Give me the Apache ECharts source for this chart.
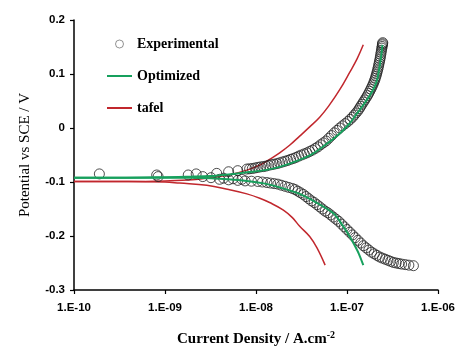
<!DOCTYPE html>
<html>
<head>
<meta charset="utf-8">
<script src="https://cdn.jsdelivr.net/npm/echarts@6/dist/echarts.min.js"></script>
<style>html,body{margin:0;padding:0;background:#fff;}#c{width:474px;height:355px;}</style>
</head>
<body>
<div id="c"></div>
<script>
// Tick labels
var xTickLabels = ["1.E-10", "1.E-09", "1.E-08", "1.E-07", "1.E-06"];
var yTickLabels = ["-0.3", "-0.2", "-0.1", "0", "0.1", "0.2"];

// Experimental data (current density A/cm2, potential V vs SCE)
var expNearCurrent = [1.9e-10, 8.1e-10, 8.4e-10, 1.8e-9, 2.2e-9, 2.6e-9, 3.2e-9, 3.7e-9, 4.4e-9, 5.0e-9, 5.6e-9, 6.3e-9, 7.0e-9];
var expNearPotential = [-0.085, -0.087, -0.090, -0.087, -0.085, -0.090, -0.092, -0.084, -0.093, -0.081, -0.094, -0.079, -0.095];

var expAnodicCurrent = [7.94e-9, 8.51e-9, 9.12e-9, 9.77e-9, 1.047e-8, 1.122e-8, 1.202e-8, 1.288e-8, 1.380e-8, 1.479e-8, 1.585e-8, 1.698e-8, 1.820e-8, 1.950e-8, 2.089e-8, 2.239e-8, 2.399e-8, 2.570e-8, 2.754e-8, 2.951e-8, 3.162e-8, 3.388e-8, 3.631e-8, 3.890e-8, 4.169e-8, 4.467e-8, 4.786e-8, 5.129e-8, 5.495e-8, 5.888e-8, 6.310e-8, 6.761e-8, 7.244e-8, 7.762e-8, 8.318e-8,
  8.91e-8, 9.55e-8, 1.023e-7, 1.084e-7, 1.148e-7, 1.202e-7, 1.259e-7, 1.318e-7, 1.365e-7, 1.413e-7, 1.462e-7, 1.514e-7, 1.567e-7, 1.622e-7, 1.675e-7, 1.730e-7, 1.778e-7, 1.828e-7, 1.875e-7, 1.923e-7, 1.968e-7, 2.009e-7, 2.046e-7, 2.080e-7, 2.113e-7, 2.143e-7, 2.173e-7, 2.203e-7, 2.228e-7, 2.254e-7, 2.280e-7, 2.307e-7, 2.328e-7, 2.350e-7, 2.371e-7, 2.393e-7, 2.415e-7, 2.432e-7, 2.449e-7, 2.460e-7, 2.472e-7];
var expAnodicPotential = [-0.076, -0.0755, -0.075, -0.074, -0.073, -0.072, -0.0715, -0.0705, -0.069, -0.068, -0.067, -0.066, -0.0645, -0.063, -0.0615, -0.060, -0.058, -0.0565, -0.0545, -0.052, -0.050, -0.048, -0.046, -0.0435, -0.041, -0.038, -0.035, -0.031, -0.0275, -0.024, -0.019, -0.014, -0.009, -0.0045, 0.000,
  0.004, 0.008, 0.012, 0.016, 0.020, 0.024, 0.028, 0.032, 0.036, 0.040, 0.044, 0.048, 0.052, 0.056, 0.060, 0.064, 0.068, 0.072, 0.076, 0.080, 0.084, 0.088, 0.092, 0.096, 0.100, 0.104, 0.108, 0.112, 0.116, 0.120, 0.124, 0.128, 0.132, 0.136, 0.140, 0.144, 0.148, 0.151, 0.154, 0.156, 0.158];

var expCathodicCurrent = [3.98e-9, 5.01e-9, 6.31e-9, 7.59e-9, 8.91e-9, 1.047e-8, 1.175e-8, 1.318e-8, 1.445e-8, 1.585e-8, 1.738e-8, 1.905e-8, 2.089e-8, 2.291e-8, 2.512e-8, 2.692e-8, 2.884e-8, 3.090e-8, 3.311e-8, 3.548e-8, 3.802e-8, 4.074e-8, 4.365e-8, 4.677e-8, 5.012e-8, 5.370e-8, 5.754e-8, 6.166e-8, 6.607e-8, 7.079e-8, 7.586e-8, 8.128e-8, 8.710e-8, 9.333e-8, 1.0e-7, 1.072e-7, 1.148e-7, 1.230e-7, 1.318e-7, 1.413e-7, 1.514e-7, 1.622e-7, 1.738e-7, 1.862e-7, 1.995e-7, 2.138e-7, 2.291e-7, 2.455e-7, 2.630e-7, 2.818e-7, 3.020e-7, 3.236e-7, 3.467e-7, 3.715e-7, 3.981e-7, 4.365e-7, 4.786e-7, 5.370e-7];
var expCathodicPotential = [-0.095, -0.096, -0.097, -0.098, -0.0985, -0.099, -0.100, -0.101, -0.102, -0.103, -0.104, -0.106, -0.108, -0.110, -0.112, -0.114, -0.117, -0.120, -0.123, -0.127, -0.131, -0.135, -0.138, -0.142, -0.146, -0.150, -0.154, -0.157, -0.161, -0.165, -0.169, -0.173, -0.178, -0.183, -0.188, -0.193, -0.198, -0.203, -0.208, -0.213, -0.218, -0.222, -0.226, -0.230, -0.233, -0.236, -0.239, -0.241, -0.243, -0.245, -0.247, -0.249, -0.250, -0.251, -0.252, -0.253, -0.254, -0.255];

// Optimized fit
var optAnodicCurrent = [1.0e-10, 3.16e-10, 1.0e-9, 2.0e-9, 3.16e-9, 5.01e-9, 7.94e-9, 1.26e-8, 1.82e-8, 2.82e-8, 4.27e-8, 6.03e-8, 8.32e-8, 1.05e-7, 1.29e-7, 1.55e-7, 1.78e-7, 2.0e-7, 2.14e-7, 2.26e-7, 2.37e-7, 2.45e-7];
var optAnodicPotential = [-0.092, -0.092, -0.091, -0.090, -0.089, -0.086, -0.082, -0.078, -0.072, -0.061, -0.047, -0.029, -0.010, 0.007, 0.027, 0.045, 0.060, 0.076, 0.089, 0.110, 0.132, 0.154];
var optCathodicCurrent = [1.0e-10, 3.16e-10, 1.0e-9, 2.0e-9, 3.98e-9, 7.94e-9, 1.26e-8, 1.82e-8, 3.02e-8, 4.27e-8, 7.08e-8, 8.91e-8, 1.07e-7, 1.20e-7, 1.35e-7, 1.51e-7];
var optCathodicPotential = [-0.092, -0.092, -0.092, -0.092, -0.094, -0.098, -0.103, -0.110, -0.122, -0.135, -0.158, -0.180, -0.201, -0.216, -0.233, -0.254];

// Tafel lines
var tafelAnodicCurrent = [1.0e-10, 3.98e-10, 1.0e-9, 2.0e-9, 3.16e-9, 5.01e-9, 7.94e-9, 1.12e-8, 1.41e-8, 1.82e-8, 2.34e-8, 3.02e-8, 3.89e-8, 5.01e-8, 6.31e-8, 8.32e-8, 1.07e-7, 1.29e-7, 1.51e-7];
var tafelAnodicPotential = [-0.099, -0.099, -0.098, -0.096, -0.092, -0.087, -0.078, -0.068, -0.058, -0.046, -0.032, -0.015, 0.002, 0.020, 0.041, 0.071, 0.103, 0.128, 0.154];
var tafelCathodicCurrent = [1.0e-10, 3.98e-10, 1.0e-9, 1.45e-9, 2.88e-9, 5.01e-9, 7.94e-9, 1.10e-8, 1.41e-8, 2.0e-8, 2.51e-8, 3.02e-8, 3.89e-8, 4.68e-8, 5.75e-8];
var tafelCathodicPotential = [-0.099, -0.099, -0.100, -0.102, -0.106, -0.114, -0.122, -0.130, -0.138, -0.152, -0.166, -0.182, -0.201, -0.222, -0.254];

function zip(a, b) { return a.map(function (v, i) { return [v, b[i]]; }); }

var expData = zip(expNearCurrent, expNearPotential)
  .concat(zip(expAnodicCurrent, expAnodicPotential))
  .concat(zip(expCathodicCurrent, expCathodicPotential));

var GREEN = '#17a05d', RED = '#c1272d';
var LINE_ICON = 'path://M0,0H25V2H0Z';

var chart = echarts.init(document.getElementById('c'), null, { renderer: 'canvas' });
chart.setOption({
  animation: false,
  backgroundColor: '#fff',
  grid: { left: 74, right: 36, top: 20, bottom: 65, containLabel: false },
  legend: {
    orient: 'vertical',
    left: 107,
    top: 37,
    padding: 0,
    itemWidth: 25,
    itemHeight: 8,
    itemGap: 18,
    symbolKeepAspect: true,
    data: [
      { name: 'Experimental', icon: 'circle', itemStyle: { color: 'rgba(255,255,255,0)', borderColor: '#555', borderWidth: 0.8 } },
      { name: 'Optimized', icon: LINE_ICON },
      { name: 'tafel', icon: LINE_ICON }
    ],
    textStyle: { fontFamily: 'Liberation Serif', fontWeight: 'bold', fontSize: 14, color: '#000' }
  },
  xAxis: {
    type: 'log', logBase: 10, min: 1e-10, max: 1e-6,
    name: '{a|Current Density / A.cm}{s|-2}',
    nameLocation: 'middle', nameGap: 40,
    nameTextStyle: {
      rich: {
        a: { fontFamily: 'Liberation Serif', fontWeight: 'bold', fontSize: 15, color: '#000', lineHeight: 18 },
        s: { fontFamily: 'Liberation Serif', fontWeight: 'bold', fontSize: 10, color: '#000', lineHeight: 18, verticalAlign: 'top', padding: [0, 0, 10, 0] }
      }
    },
    axisLine: { onZero: false, lineStyle: { color: '#000', width: 1.5 } },
    axisTick: { show: true, inside: false, length: 4, lineStyle: { color: '#000', width: 1.2 } },
    minorTick: { show: false },
    splitLine: { show: false },
    axisLabel: {
      margin: 12,
      fontFamily: 'Liberation Sans', fontWeight: 'bold', fontSize: 11.5, color: '#000',
      formatter: function (v) { return xTickLabels[Math.round(Math.log10(v)) + 10]; }
    }
  },
  yAxis: {
    type: 'value', min: -0.3, max: 0.2, interval: 0.1,
    name: 'Potential vs SCE / V',
    nameLocation: 'middle', nameGap: 41,
    nameTextStyle: { fontFamily: 'Liberation Serif', fontSize: 15, color: '#000' },
    axisLine: { onZero: false, lineStyle: { color: '#000', width: 1.5 } },
    axisTick: { show: true, inside: false, length: 4, lineStyle: { color: '#000', width: 1.2 } },
    splitLine: { show: false },
    axisLabel: {
      margin: 9,
      fontFamily: 'Liberation Sans', fontWeight: 'bold', fontSize: 11.5, color: '#000',
      formatter: function (v) { return yTickLabels[Math.round(v * 10) + 3]; }
    }
  },
  series: [
    {
      name: 'Experimental', type: 'scatter', symbol: 'circle', symbolSize: 10,
      data: expData, z: 3,
      itemStyle: { color: 'rgba(255,255,255,0)', borderColor: '#222', borderWidth: 1 }
    },
    {
      name: 'Optimized', type: 'line', showSymbol: false, symbol: 'none', smooth: 0.3,
      data: zip(optAnodicCurrent, optAnodicPotential), z: 4,
      lineStyle: { color: GREEN, width: 2 }, itemStyle: { color: GREEN }
    },
    {
      name: 'Optimized', type: 'line', showSymbol: false, symbol: 'none', smooth: 0.3,
      data: zip(optCathodicCurrent, optCathodicPotential), z: 4,
      lineStyle: { color: GREEN, width: 2 }, itemStyle: { color: GREEN }
    },
    {
      name: 'tafel', type: 'line', showSymbol: false, symbol: 'none', smooth: 0.4,
      data: zip(tafelAnodicCurrent, tafelAnodicPotential), z: 2,
      lineStyle: { color: RED, width: 1.5 }, itemStyle: { color: RED }
    },
    {
      name: 'tafel', type: 'line', showSymbol: false, symbol: 'none', smooth: 0.4,
      data: zip(tafelCathodicCurrent, tafelCathodicPotential), z: 2,
      lineStyle: { color: RED, width: 1.5 }, itemStyle: { color: RED }
    }
  ]
});
</script>
</body>
</html>
